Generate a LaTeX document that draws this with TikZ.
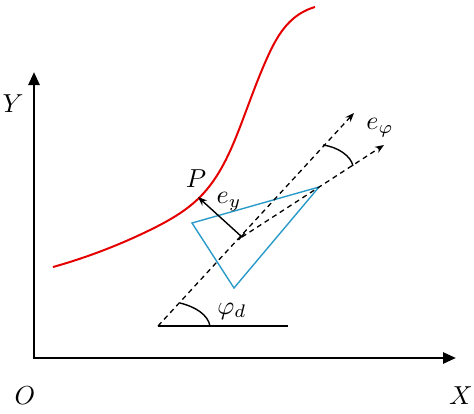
\documentclass[tikz,border=0pt]{standalone}
\usetikzlibrary{arrows.meta,hobby}
\newcommand{\bigtxt}[1]{\scalebox{2.6}{#1}}
\begin{document}
\begin{tikzpicture}[x=1pt,y=-1pt,
  axis/.style={line width=2.6pt,-{Triangle[length=13pt,width=11pt]}},
  dline/.style={dashed,line width=1.3pt,dash pattern=on 5pt off 4pt,-{Stealth[length=9pt,width=7pt]}},
  lbl/.style={inner sep=0pt},
  thin/.style={line width=1.4pt}]
\useasboundingbox (0,0) rectangle (474,413);
% axes
\coordinate (O) at (34,358);
\coordinate (Ytip) at (34,72);
\coordinate (Xtip) at (456,358);
\draw[axis] (O) -- (Ytip);
\draw[axis] ([xshift=-1.3pt]O) -- (Xtip);
\node[lbl] (lo) at (25,396) {\bigtxt{$O$}};
\node[lbl] (lx) at (461,396) {\bigtxt{$X$}};
\node[lbl] (ly) at (13,104) {\bigtxt{$Y$}};
% red curve
\draw[red!90!black,line width=2pt,use Hobby shortcut]
  (53,267) .. (150,230) .. (200,197) .. (240,127) .. (268,56) .. (294,18) .. (315,7);
% triangle
\coordinate (T1) at (192,223);
\coordinate (T2) at (319,187);
\coordinate (T3) at (234,288);
\draw[cyan!60!teal,line width=1.4pt,line join=miter] (T1) -- (T2) -- (T3) -- cycle;
% reference lines
\coordinate (A) at (158,326);
\coordinate (Ah) at (288,326);
\coordinate (C) at (242,237);
\coordinate (U) at (354,113);
\coordinate (L) at (384,145);
\draw[thin] (A) -- (Ah);
\draw[dline] (A) -- (U);
\draw[dline] (C) -- (L);
% angle arcs
\draw[thin] (180,303) .. controls (196,307) and (208,315) .. (210,326);
\node[lbl] (phid) at (232,311) {\bigtxt{$\varphi_d$}};
\draw[thin] (323,145) .. controls (338,147) and (351,156) .. (353,166);
\node[lbl] (ephi) at (380,128) {\bigtxt{$e_\varphi$}};
% e_y arrow
\coordinate (Pt) at (198,197);
\draw[thin,{Bar[width=9pt]}-{Stealth[length=9pt,width=7pt]}] (C) -- (Pt);
\node[lbl] (ey) at (229,202) {\bigtxt{$e_y$}};
\node[lbl] (pl) at (196,179) {\bigtxt{$P$}};
\end{tikzpicture}
\end{document}
